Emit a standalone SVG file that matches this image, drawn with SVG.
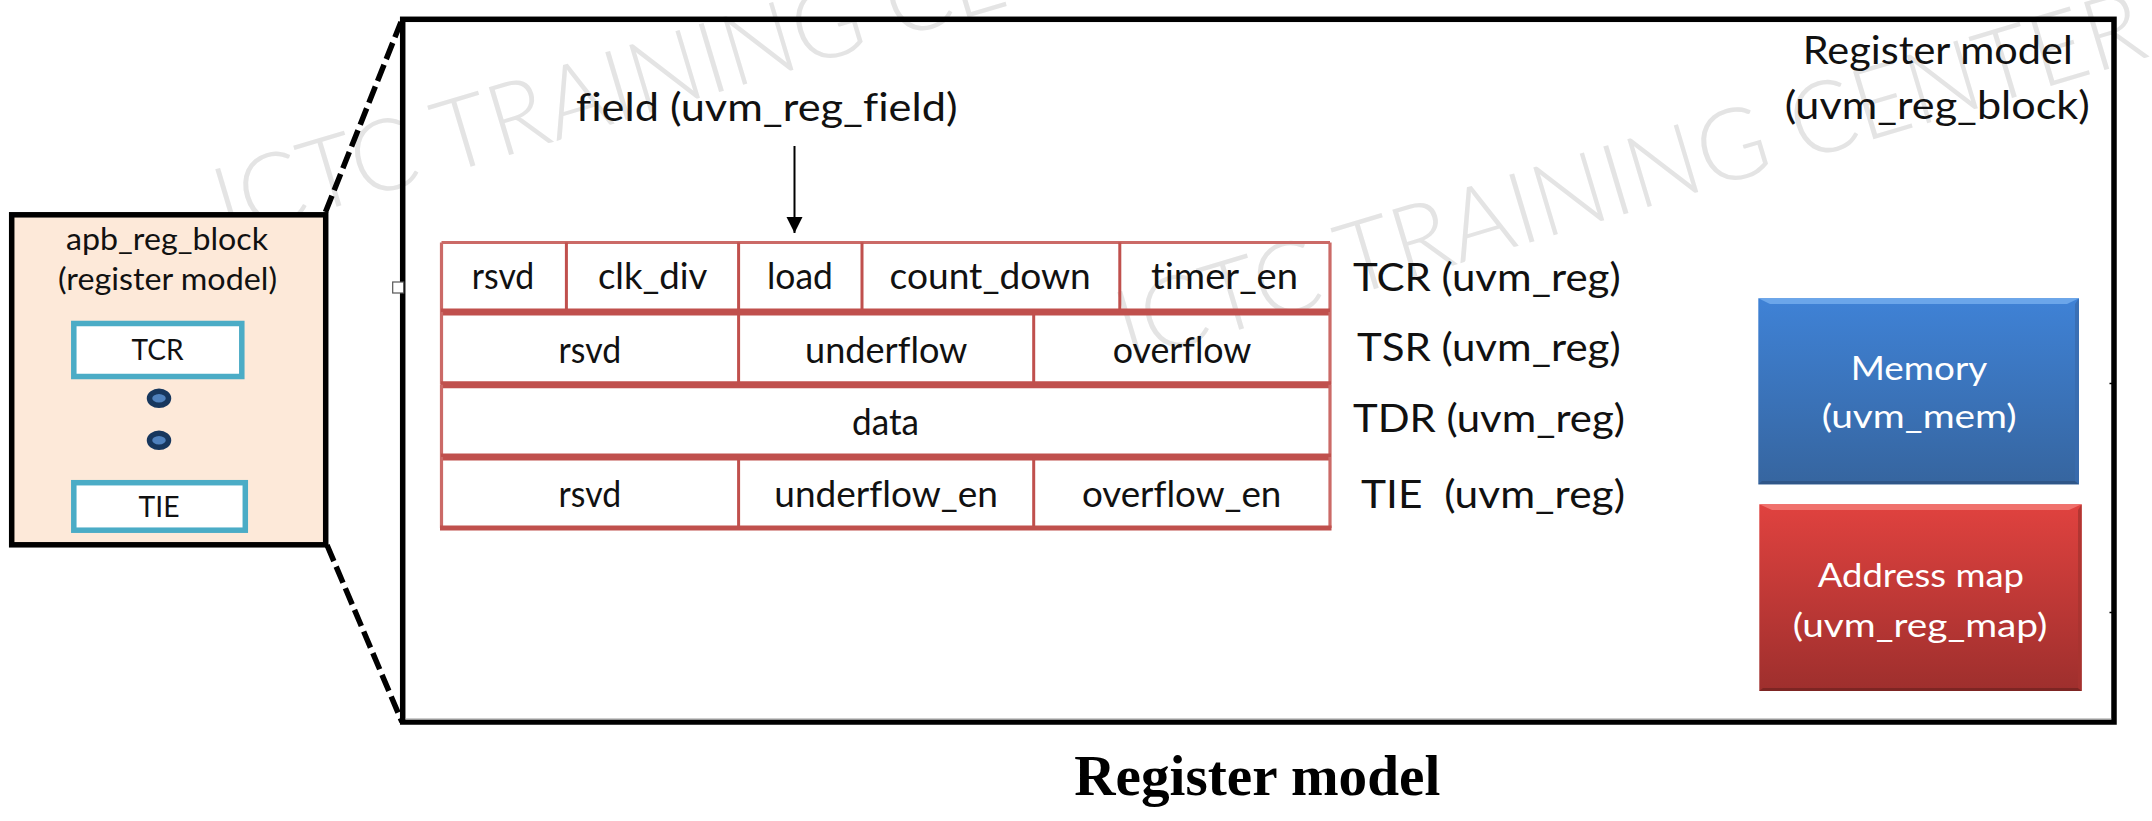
<svg xmlns="http://www.w3.org/2000/svg" width="2152" height="821" viewBox="0 0 2152 821">
<style>
text{font-family:Lato,"Liberation Sans",sans-serif;fill:#111;font-variant-ligatures:none}
.wm{font-family:Lato,"Liberation Sans",sans-serif;font-weight:300;font-size:100px;fill:#e4e4e4}
.cell{font-size:36px}.lab{font-size:38px}.sm{font-size:31px}.reg{font-size:28px}.mem{font-size:33px;fill:#fff}
.title{font-family:"Liberation Serif",serif;font-weight:700;font-size:58px;fill:#000}
.blk{fill:none;stroke:#000;stroke-linejoin:miter}
.dash{fill:none;stroke:#000;stroke-width:5.5;stroke-dasharray:17.5 6}
.rl{fill:none;stroke:#c0504d;stroke-width:3}
.ro{fill:none;stroke:#cb6a67;stroke-width:3.2}
.rh{fill:none;stroke:#c0504d;stroke-width:7}
.tb{fill:#fff;stroke:#4bacc6;stroke-width:5.5}
.dot{fill:#4f81bd;stroke:#17375e;stroke-width:5.5}
</style>
<defs>
<linearGradient id="gb" x1="0" y1="0" x2="0" y2="1"><stop offset="0" stop-color="#3f82d6"/><stop offset="1" stop-color="#36659f"/></linearGradient>
<linearGradient id="gr" x1="0" y1="0" x2="0" y2="1"><stop offset="0" stop-color="#e0423f"/><stop offset="1" stop-color="#9e2f2d"/></linearGradient>
<marker id="ah" markerUnits="userSpaceOnUse" markerWidth="16" markerHeight="17" refX="16" refY="8" orient="auto"><path d="M0 0L16 8L0 16Z" fill="#000"/></marker>
</defs>
<rect width="2152" height="821" fill="#fff"/>
<g id="watermark">
<text class="wm" transform="translate(226,240) rotate(-16.7)" textLength="820" lengthAdjust="spacingAndGlyphs">ICTC TRAINING CE</text>
<text class="wm" transform="translate(1128,363) rotate(-16.7)" textLength="1068" lengthAdjust="spacingAndGlyphs">ICTC TRAINING CENTER</text>
</g>
<g id="connectors">
<path class="dash" d="M325.5 212L401 22"/>
<path class="dash" d="M327 545L402 722"/>
<path d="M794.5 146V233" fill="none" stroke="#000" stroke-width="2" marker-end="url(#ah)"/>
</g>
<g id="apb_reg_block">
<rect x="11.7" y="214.8" width="314" height="330" fill="#fde9d9" stroke="#000" stroke-width="5.5"/>
<text class="sm" x="66" y="250" textLength="202" lengthAdjust="spacingAndGlyphs">apb_reg_block</text>
<text class="sm" x="58" y="290" textLength="219" lengthAdjust="spacingAndGlyphs">(register model)</text>
</g>
<g id="apb_tcr"><rect class="tb" x="73.8" y="323.5" width="168" height="53"/><text class="reg" x="131.5" y="360" textLength="52" lengthAdjust="spacingAndGlyphs">TCR</text></g>
<g id="apb_dot1"><ellipse class="dot" cx="159" cy="398.3" rx="9.5" ry="7"/></g>
<g id="apb_dot2"><ellipse class="dot" cx="159" cy="440.3" rx="9.5" ry="7"/></g>
<g id="apb_tie"><rect class="tb" x="73.8" y="482.7" width="171.5" height="47.5"/><text class="reg" x="138.5" y="517" textLength="41" lengthAdjust="spacingAndGlyphs">TIE</text></g>
<g id="register_model">
<rect class="blk" x="402.7" y="19.3" width="1711.3" height="702.7" stroke-width="5.5"/>
<path d="M405.5 719.3H2111.3" fill="none" stroke="#999" stroke-width="1.6"/>
<path d="M2109.5 383.5h3M2109.5 612.5h3" fill="none" stroke="#000" stroke-width="1.5"/>
<rect x="392.7" y="282" width="11" height="11" fill="#fff" stroke="#555" stroke-width="1.2"/>
<text class="lab" x="1802.7" y="64.3" textLength="270" lengthAdjust="spacingAndGlyphs">Register model</text>
<text class="lab" x="1784.8" y="119.3" textLength="305" lengthAdjust="spacingAndGlyphs">(uvm_reg_block)</text>
<text class="lab" x="576" y="120.7" textLength="381.5" lengthAdjust="spacingAndGlyphs">field (uvm_reg_field)</text>
</g>
<g id="tcr">
<path class="ro" d="M441.5 242.5H1330M441.5 242.5V312M1330 242.5V312"/>
<path class="rl" d="M566.4 242.5V312M738.6 242.5V312M862 242.5V312M1119.8 242.5V312"/>
<path class="rh" d="M441 312H1330"/>
<text class="cell" x="471.8" y="289.3" textLength="62.5" lengthAdjust="spacingAndGlyphs">rsvd</text>
<text class="cell" x="597.9" y="289.3" textLength="109.6" lengthAdjust="spacingAndGlyphs">clk_div</text>
<text class="cell" x="767" y="289.3" textLength="66" lengthAdjust="spacingAndGlyphs">load</text>
<text class="cell" x="889.6" y="289.3" textLength="201.2" lengthAdjust="spacingAndGlyphs">count_down</text>
<text class="cell" x="1151" y="289.3" textLength="147" lengthAdjust="spacingAndGlyphs">timer_en</text>
<text class="lab" x="1352.9" y="291" textLength="267.8" lengthAdjust="spacingAndGlyphs">TCR (uvm_reg)</text>
</g>
<g id="tsr">
<path class="ro" d="M441.5 312V384.7M1330 312V384.7"/>
<path class="rl" d="M738.6 312V384.7M1033.7 312V384.7"/>
<path class="rh" d="M441 384.7H1331"/>
<text class="cell" x="558.6" y="362.7" textLength="62.5" lengthAdjust="spacingAndGlyphs">rsvd</text>
<text class="cell" x="805" y="362.7" textLength="162.5" lengthAdjust="spacingAndGlyphs">underflow</text>
<text class="cell" x="1112.7" y="362.7" textLength="138.8" lengthAdjust="spacingAndGlyphs">overflow</text>
<text class="lab" x="1357" y="361" textLength="263.7" lengthAdjust="spacingAndGlyphs">TSR (uvm_reg)</text>
</g>
<g id="tdr">
<path class="ro" d="M441.5 384.7V457M1330 384.7V457"/>
<path class="rh" d="M441 457H1331"/>
<text class="cell" x="852" y="435" textLength="67" lengthAdjust="spacingAndGlyphs">data</text>
<text class="lab" x="1352.9" y="432.3" textLength="272" lengthAdjust="spacingAndGlyphs">TDR (uvm_reg)</text>
</g>
<g id="tie">
<path class="ro" d="M441.5 457V528M1330 457V528"/>
<path class="rl" d="M738.6 457V528M1033.7 457V528"/>
<path d="M440 528H1331.5" fill="none" stroke="#c0504d" stroke-width="5"/>
<text class="cell" x="558.6" y="506.7" textLength="62.5" lengthAdjust="spacingAndGlyphs">rsvd</text>
<text class="cell" x="774.3" y="506.7" textLength="223.7" lengthAdjust="spacingAndGlyphs">underflow_en</text>
<text class="cell" x="1081.9" y="506.7" textLength="199.5" lengthAdjust="spacingAndGlyphs">overflow_en</text>
<text class="lab" x="1361" y="507.7" textLength="264" lengthAdjust="spacingAndGlyphs" xml:space="preserve">TIE  (uvm_reg)</text>
</g>
<g id="memory">
<rect x="1758.3" y="298.3" width="320.7" height="186" fill="url(#gb)"/>
<path d="M1758.3 298.3H2079L2067 304H1770Z" fill="#6ba6ea"/>
<path d="M1758.3 484.3H2079L2075 481H1762Z" fill="#2f5688"/>
<path d="M2079 298.3V484.3L2075 481V304Z" fill="#3a6cae" opacity=".8"/>
<text class="mem" x="1850.7" y="380" textLength="136.6" lengthAdjust="spacingAndGlyphs">Memory</text>
<text class="mem" x="1821.7" y="428" textLength="195" lengthAdjust="spacingAndGlyphs">(uvm_mem)</text>
</g>
<g id="address_map">
<rect x="1759.3" y="504.3" width="322.4" height="186.7" fill="url(#gr)"/>
<path d="M1759.3 504.3H2081.7L2069 510H1772Z" fill="#f0716c"/>
<path d="M1759.3 691H2081.7L2078 688H1763Z" fill="#7d2523"/>
<path d="M2081.7 504.3V691L2078 688V510Z" fill="#a83330" opacity=".8"/>
<text class="mem" x="1817.7" y="587.3" textLength="206.3" lengthAdjust="spacingAndGlyphs">Address map</text>
<text class="mem" x="1792.7" y="637.3" textLength="254.6" lengthAdjust="spacingAndGlyphs">(uvm_reg_map)</text>
</g>
<text class="title" x="1074.3" y="795" textLength="366" lengthAdjust="spacingAndGlyphs">Register model</text>
</svg>
